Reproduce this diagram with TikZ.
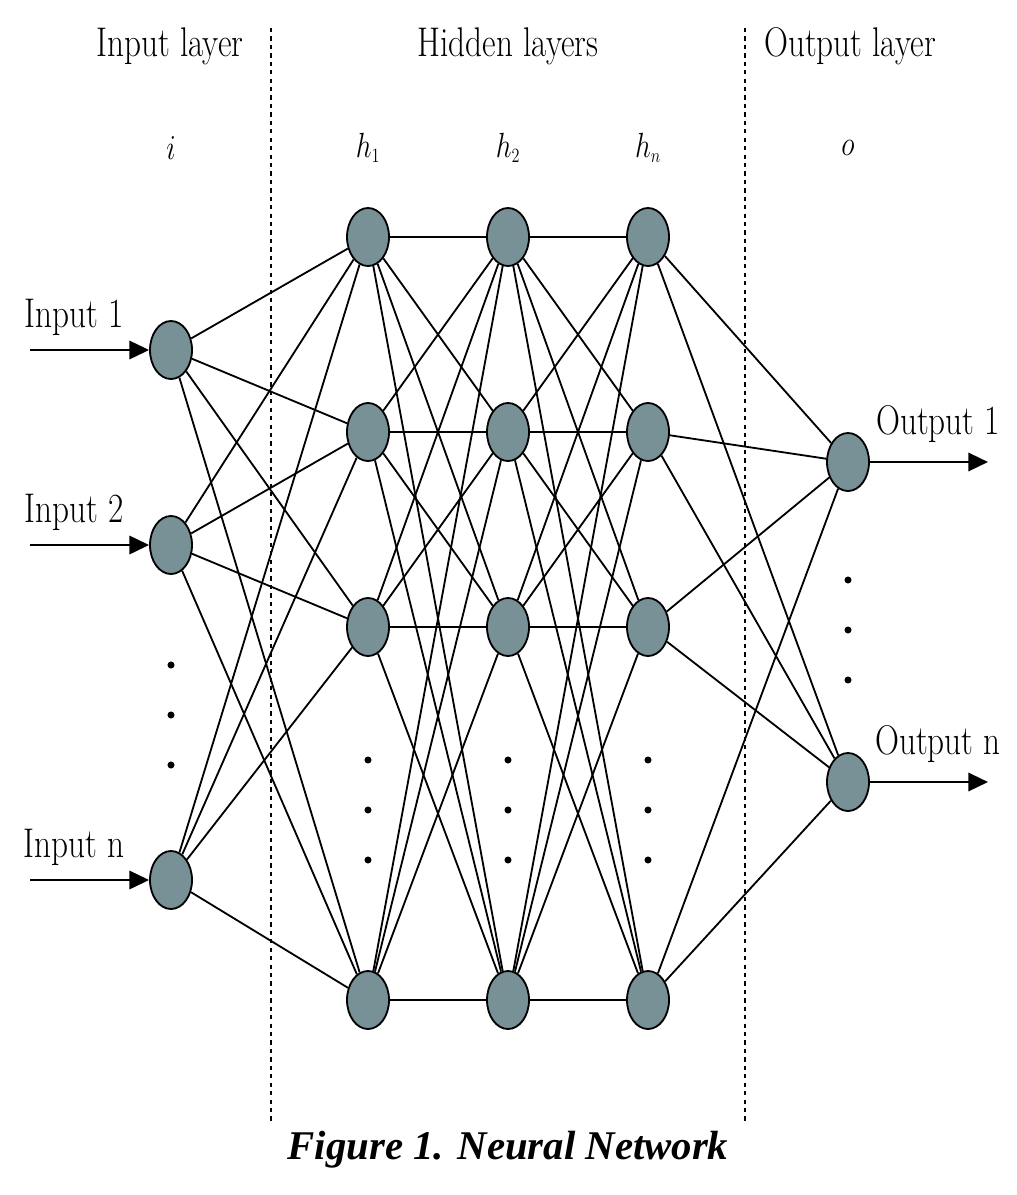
\documentclass[tikz,border=0pt]{standalone}
\usepackage{fontspec}
\newfontfamily\capfont{Liberation Serif}
\usetikzlibrary{arrows.meta,shapes.geometric}
\definecolor{nodec}{RGB}{120,145,150}
\tikzset{neuron/.style={ellipse,draw,line width=1.3pt,fill=nodec,minimum width=42*0.025cm,minimum height=58*0.025cm,inner sep=0pt},
lbl/.style={font=\fontsize{29.5}{32}\selectfont},
conn/.style={line width=1.3pt},
arr/.style={line width=1.8pt,-{Triangle[length=14pt,width=13pt]}},
dotn/.style={circle,fill=black,inner sep=0pt,minimum size=5pt}}
\newcommand{\sq}[1]{\scalebox{0.8}[1]{#1}}
\begin{document}
\begin{tikzpicture}[x=0.025cm,y=-0.025cm]
\useasboundingbox (0,0) rectangle (1017,1195);
\fill[white] (0,0) rectangle (1017,1195);
\draw[dashed,line width=0.8pt] (271,28) -- (271,1122);
\draw[dashed,line width=0.8pt] (745,28) -- (745,1122);
\node[lbl] (tl1) at (170,46) {\sq{Input layer}};
\node[lbl] (tl2) at (508,46) {\sq{Hidden layers}};
\node[lbl] (tl3) at (850,46) {\sq{Output layer}};
\node[lbl] (li) at (171,148) {\sq{$i$}};
\node[lbl] (lh1) at (368,148) {\sq{$h_{\scriptscriptstyle 1}$}};
\node[lbl] (lh2) at (508,148) {\sq{$h_{\scriptscriptstyle 2}$}};
\node[lbl] (lhn) at (648,148) {\sq{$h_{\scriptscriptstyle n}$}};
\node[lbl] (lo) at (848,148) {\sq{$o$}};
\node[neuron] (i1) at (171,350) {};
\node[neuron] (i2) at (171,545) {};
\node[neuron] (i3) at (171,880) {};
\foreach \y in {665,715,765} \node[dotn] at (171,\y) {};
\foreach \c/\x in {a/368,b/508,c/648}{
 \node[neuron] (\c1) at (\x,237) {};
 \node[neuron] (\c2) at (\x,432) {};
 \node[neuron] (\c3) at (\x,627) {};
 \node[neuron] (\c4) at (\x,1000) {};
 \foreach \y in {760,810,860} \node[dotn] at (\x,\y) {};
}
\node[neuron] (o1) at (848,462) {};
\node[neuron] (o2) at (848,782) {};
\foreach \y in {580,630,680} \node[dotn] at (848,\y) {};
\foreach \s in {1,2,3}\foreach \t in {1,2,3,4} \draw[conn] (i\s) -- (a\t);
\foreach \s in {1,2,3,4}\foreach \t in {1,2,3,4} {\draw[conn] (a\s) -- (b\t); \draw[conn] (b\s) -- (c\t);}
\foreach \s in {1,2,3,4}\foreach \t in {1,2} \draw[conn] (c\s) -- (o\t);
\foreach \n/\y/\t in {1/350/Input 1,2/545/Input 2,3/880/Input n}{
 \coordinate (s\n) at (30,\y);
 \draw[arr] (s\n) -- (i\n);
 \node[lbl] at (74,\y-33) {\sq{\t}};
}
\foreach \n/\y/\t in {1/462/Output 1,2/782/Output n}{
 \coordinate (e\n) at (988,\y);
 \draw[arr] (o\n) -- (e\n);
 \node[lbl] at (938,\y-38) {\sq{\t}};
}
\node[font=\capfont\bfseries\itshape\fontsize{29}{32}\selectfont] (cap) at (508,1150) {Figure 1. Neural Network};
\end{tikzpicture}
\end{document}
